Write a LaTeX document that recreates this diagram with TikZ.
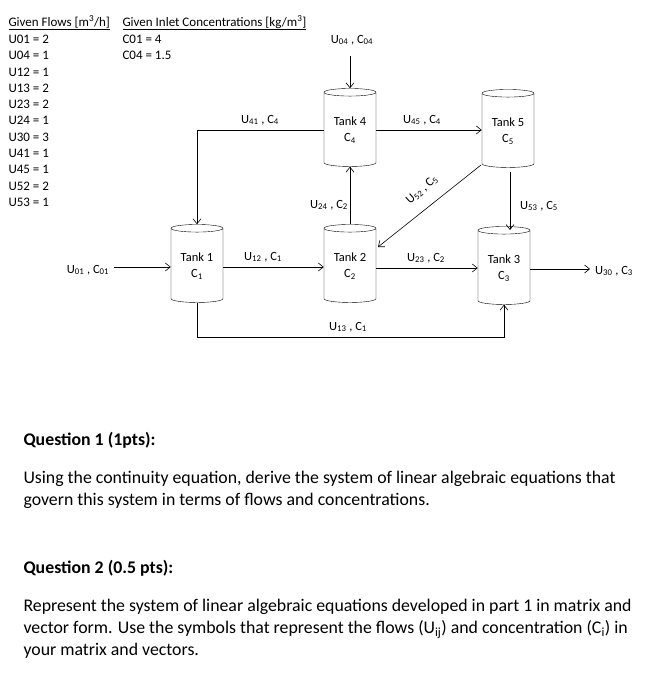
\documentclass[tikz,border=0pt]{standalone}
\usepackage{fontspec}
\setmainfont{Carlito}
\usetikzlibrary{shapes.geometric,arrows.meta}
\newcommand{\sbs}[1]{\textsubscript{#1}}
\begin{document}
\begin{tikzpicture}[x=1pt,y=-1pt,
  tank/.style={draw,shape=cylinder,shape border rotate=90,aspect=0.22,minimum width=52pt,minimum height=78pt,align=center,font=\fontsize{12.5}{16}\selectfont,inner sep=1pt},
  lab/.style={font=\fontsize{12.5}{14}\selectfont},
  leg/.style={font=\fontsize{13}{14}\selectfont,anchor=west},
  flow/.style={-{Straight Barb[length=5pt,width=8pt]},line width=0.6pt},
  q/.style={font=\fontsize{17.8}{22}\selectfont,anchor=west,align=left}]
\useasboundingbox (0,0) rectangle (649,700);
% legend
\node[leg] (g1) at (5,23) {\underline{Given Flows [m\textsuperscript{3}/h]}};
\node[leg] (g2) at (119,23) {\underline{Given Inlet Concentrations [kg/m\textsuperscript{3}]}};
\foreach \t [count=\i] in {U01 = 2,U04 = 1,U12 = 1,U13 = 2,U23 = 2,U24 = 1,U30 = 3,U41 = 1,U45 = 1,U52 = 2,U53 = 1}
  \node[leg] (f\i) at (5,{23+16.3*\i}) {\t};
\node[leg] (c1) at (119,39.3) {C01 = 4};
\node[leg] (c2) at (119,55.6) {C04 = 1.5};
% tanks
\node[tank] (t1) at (197,266) {Tank 1\\C\sbs{1}};
\node[tank] (t2) at (350,266) {Tank 2\\C\sbs{2}};
\node[tank] (t3) at (504,268) {Tank 3\\C\sbs{3}};
\node[tank] (t4) at (350,130) {Tank 4\\C\sbs{4}};
\node[tank] (t5) at (508,131) {Tank 5\\C\sbs{5}};
% labels
\node[lab] (l01) at (88,270) {U\sbs{01} , C\sbs{01}};
\node[lab] (l12) at (263,257) {U\sbs{12} , C\sbs{1}};
\node[lab] (l23) at (426,258) {U\sbs{23} , C\sbs{2}};
\node[lab] (l30) at (614,271) {U\sbs{30} , C\sbs{3}};
\node[lab] (l13) at (348,327) {U\sbs{13} , C\sbs{1}};
\node[lab] (l41) at (260,120) {U\sbs{41} , C\sbs{4}};
\node[lab] (l45) at (422,120) {U\sbs{45} , C\sbs{4}};
\node[lab] (l04) at (352,40) {U\sbs{04} , C\sbs{04}};
\node[lab] (l24) at (329,205) {U\sbs{24} , C\sbs{2}};
\node[lab] (l53) at (539,206) {U\sbs{53} , C\sbs{5}};
\node[lab,rotate=42] (l52) at (422,190) {U\sbs{52} , C\sbs{5}};
\coordinate (s01) at (114,267);
\coordinate (e30) at (590,269);
\coordinate (s04) at (350,56);
% connectors
\draw[flow] (s01) -- (s01 -| t1.west);
\draw[flow] (t1.east |- 0,267) -- (t2.west |- 0,267);
\draw[flow] (t2.east |- 0,268) -- (t3.west |- 0,268);
\draw[flow] (t3.east |- 0,269) -- (e30);
\draw[flow] (s04) -- (t4.top);
\draw[flow] (t4.west |- 0,130) -- (197,130) -- (t1.top);
\draw[flow] (t4.east |- 0,130) -- (t5.west |- 0,130);
\draw[flow] (t2.top) -- (t4.bottom);
\draw[flow] (510,172) -- (510,230);
\draw[flow] (481,165) -- (378,247);
\draw[flow] (t1.bottom) -- (197,337) -- (504,337) -- (t3.bottom);
% questions
\node[q] (q1) at (20,440) {\textbf{Question 1 (1pts):}};
\node[q] (q1b) at (20,490) {Using the continuity equation, derive the system of linear algebraic equations that\\govern this system in terms of flows and concentrations.};
\node[q] (q2) at (20,568) {\textbf{Question 2 (0.5 pts):}};
\node[q] (q2b) at (20,629) {Represent the system of linear algebraic equations developed in part 1 in matrix and\\vector form. Use the symbols that represent the flows (U\sbs{ij}) and concentration (C\sbs{i}) in\\your matrix and vectors.};
\end{tikzpicture}
\end{document}
